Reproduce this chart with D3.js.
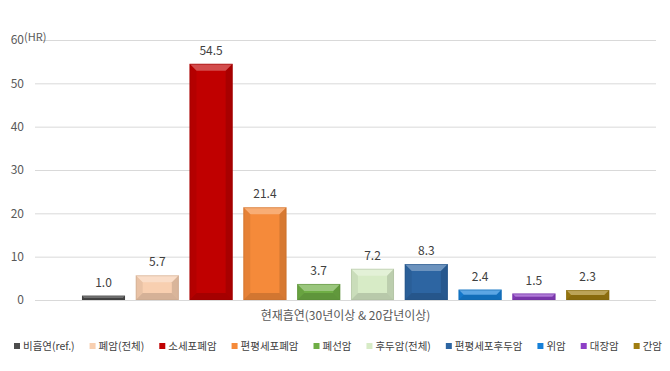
<!DOCTYPE html>
<html>
<head>
<meta charset="utf-8">
<script src="https://cdn.jsdelivr.net/npm/d3@7"></script>
<style>
    body { margin: 0; background: #fff; }
    svg text { font-family: "Noto Sans CJK KR", "Noto Sans", sans-serif; }
</style>
</head>
<body>
<div id="chart"></div>
<script>
const width = 670;
const height = 371;

const series = ['비흡연(ref.)', '폐암(전체)', '소세포폐암', '편평세포폐암', '폐선암',
    '후두암(전체)', '편평세포후두암', '위암', '대장암', '간암'];
const values = [1.0, 5.7, 54.5, 21.4, 3.7, 7.2, 8.3, 2.4, 1.5, 2.3];
const colors = ['#4d4d4d', '#f8cfb0', '#c00000', '#f58a3a', '#6fae45',
    '#d7ebc6', '#2d65a2', '#1680d8', '#8d3fc6', '#a07d10'];
const yTicks = [0, 10, 20, 30, 40, 50, 60];
const category = '현재흡연(30년이상 & 20갑년이상)';

const margin = { left: 35, right: 14, top: 40, bottom: 71 };

const svg = d3.select('#chart')
    .append('svg')
    .attr('width', width)
    .attr('height', height);

const y = d3.scaleLinear()
    .domain([0, 60])
    .range([height - margin.bottom, margin.top]);

// bars of one category, centred in the plot
const x = d3.scaleBand()
    .domain(series)
    .range([76.6, 614.6])
    .paddingInner(0.2)
    .paddingOuter(0.1);

const plotRight = width - margin.right;

const yAxis = svg.append('g')
    .attr('transform', `translate(${margin.left},0)`)
    .call(d3.axisLeft(y).tickValues(yTicks).tickSize(-(plotRight - margin.left)).tickPadding(11));

yAxis.select('.domain').remove();
yAxis.selectAll('.tick line').attr('stroke', '#d9d9d9');
yAxis.selectAll('.tick text')
    .attr('fill', '#595959')
    .style('font-size', '12px');

svg.append('text')
    .attr('x', 24)
    .attr('y', y(60) + 1)
    .attr('fill', '#595959')
    .style('font-size', '11px')
    .text('(HR)');

const bars = svg.append('g')
    .selectAll('g')
    .data(series)
    .enter()
    .append('g');

bars.append('rect')
    .attr('x', d => x(d))
    .attr('y', (d, i) => y(values[i]))
    .attr('width', x.bandwidth())
    .attr('height', (d, i) => y(0) - y(values[i]))
    .attr('fill', (d, i) => colors[i]);

// bevel faces
function bevel(d, i) {
    const x0 = x(d), x1 = x0 + x.bandwidth();
    const y0 = y(values[i]), y1 = y(0);
    const b = Math.min(7, (y1 - y0) / 2, x.bandwidth() / 2);
    return [
        { pts: [[x0, y0], [x1, y0], [x1 - b, y0 + b], [x0 + b, y0 + b]], fill: '#fff', op: 0.3 },
        { pts: [[x0, y1], [x1, y1], [x1 - b, y1 - b], [x0 + b, y1 - b]], fill: '#000', op: 0.14 },
        { pts: [[x0, y0], [x0 + b, y0 + b], [x0 + b, y1 - b], [x0, y1]], fill: '#000', op: 0.06 },
        { pts: [[x1, y0], [x1 - b, y0 + b], [x1 - b, y1 - b], [x1, y1]], fill: '#000', op: 0.12 }
    ];
}

bars.selectAll('polygon')
    .data((d, i) => bevel(d, i))
    .enter()
    .append('polygon')
    .attr('points', p => p.pts.map(q => q.join(',')).join(' '))
    .attr('fill', p => p.fill)
    .attr('fill-opacity', p => p.op);

bars.append('rect')
    .attr('x', d => x(d) + 0.5)
    .attr('y', (d, i) => y(values[i]) + 0.5)
    .attr('width', x.bandwidth() - 1)
    .attr('height', (d, i) => Math.max(0, y(0) - y(values[i]) - 1))
    .attr('fill', 'none')
    .attr('stroke', (d, i) => d3.color(colors[i]).darker(0.6))
    .attr('stroke-opacity', 0.5);

bars.append('text')
    .attr('x', d => x(d) + x.bandwidth() / 2)
    .attr('y', (d, i) => y(values[i]) - 9)
    .attr('text-anchor', 'middle')
    .attr('fill', '#404040')
    .style('font-size', '12px')
    .text((d, i) => values[i].toFixed(1));

svg.append('text')
    .attr('x', (margin.left + plotRight) / 2)
    .attr('y', 320)
    .attr('text-anchor', 'middle')
    .attr('fill', '#595959')
    .style('font-size', '12px')
    .text(category);

// legend: measure texts, then spread items between 14 and 662
const legend = svg.append('g');
const items = series.map((s, i) => {
    const t = legend.append('text')
        .attr('y', 350)
        .attr('fill', '#404040')
        .style('font-size', '10.5px')
        .text(s);
    return { t, w: t.node().getComputedTextLength(), c: colors[i] };
});
const used = d3.sum(items, d => d.w + 9);
const gap = (662 - 14 - used) / (items.length - 1);
let lx = 14;
items.forEach(d => {
    legend.append('rect')
        .attr('x', lx)
        .attr('y', 343)
        .attr('width', 6)
        .attr('height', 6)
        .attr('fill', d.c);
    d.t.attr('x', lx + 9);
    lx += 9 + d.w + gap;
});
</script>
</body>
</html>
